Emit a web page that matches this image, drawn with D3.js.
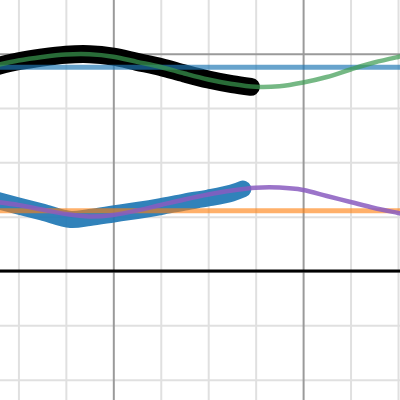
<!DOCTYPE html>
<html lang="en">
<head>
  <meta charset="UTF-8">
  <title>Chart</title>
  <script src="https://d3js.org/d3.v7.min.js"></script>
  <style>
    html, body { margin: 0; padding: 0; background: #fff; }
    svg { display: block; }
    .grid .domain { display: none; }
    .grid.minor line { stroke: #e0e0e0; stroke-width: 2px; }
    .grid.major line { stroke: #9a9a9a; stroke-width: 2px; }
  </style>
</head>
<body>
  <svg width="400" height="400"></svg>
  <script>
    // grid ticks
    const xMinorTicks = [-2, -1, 1, 2, 3, 5, 6];
    const xMajorTicks = [0, 4];
    const yMinorTicks = [-2, -1, 1, 2, 3];
    const yMajorTicks = [0, 4];

    // upper group: observed (thick black), level, fit
    const obsX = [-2.45, -2, -1.5, -1, -0.5, 0, 0.5, 1, 1.5, 2, 2.5, 2.9];
    const obsY = [3.77, 3.86, 3.93, 3.98, 3.99, 3.945, 3.85, 3.755, 3.635, 3.525, 3.44, 3.39];
    const fitX = [-2.45, -2, -1.5, -1, -0.5, 0, 0.5, 1, 1.5, 2, 2.5, 3, 3.5, 4, 4.5, 5, 5.5, 6, 6.1];
    const fitY = [3.79, 3.875, 3.94, 3.985, 3.99, 3.945, 3.85, 3.755, 3.635, 3.525, 3.442, 3.39, 3.401, 3.47, 3.571, 3.709, 3.838, 3.939, 3.957];
    const level1 = 3.749;

    // lower group: observed (thick blue), level, fit
    const obs2X = [-2.45, -2, -1.5, -0.9, -0.5, 0, 0.5, 1, 1.5, 2, 2.5, 2.73];
    const obs2Y = [1.3, 1.196, 1.086, 0.948, 0.985, 1.049, 1.114, 1.187, 1.27, 1.344, 1.436, 1.509];
    const fit2X = [-2.45, -2, -1.5, -1, -0.5, 0, 0.5, 1, 1.5, 2, 2.5, 3, 3.5, 4, 4.5, 5, 5.5, 6, 6.1];
    const fit2Y = [1.27, 1.215, 1.132, 1.049, 1.003, 1.031, 1.114, 1.215, 1.316, 1.408, 1.482, 1.532, 1.535, 1.491, 1.38, 1.27, 1.16, 1.068, 1.049];
    const level2 = 1.11;

    const W = 400, H = 400;
    const svg = d3.select("svg");

    const x = d3.scaleLinear().domain([-2.388, 6.042]).range([0, W]);
    const y = d3.scaleLinear().domain([-2.374, 4.988]).range([H, 0]);

    // gridlines via axes
    function grid(cls, xt, yt) {
      svg.append("g").attr("class", "grid " + cls)
        .attr("transform", `translate(0,${H})`)
        .call(d3.axisBottom(x).tickValues(xt).tickSize(H).tickFormat(""))
        .selectAll("line").attr("y2", -H);
      svg.append("g").attr("class", "grid " + cls)
        .call(d3.axisLeft(y).tickValues(yt).tickSize(-W).tickFormat(""));
    }
    grid("minor", xMinorTicks, yMinorTicks);
    grid("major", xMajorTicks, yMajorTicks);

    // zero line
    svg.append("line")
      .attr("x1", 0).attr("x2", W)
      .attr("y1", y(0)).attr("y2", y(0))
      .attr("stroke", "#000").attr("stroke-width", 3);

    const smooth = d3.line().x(d => x(d[0])).y(d => y(d[1])).curve(d3.curveCatmullRom.alpha(0.5));
    const straight = d3.line().x(d => x(d[0])).y(d => y(d[1]));
    const zip = (a, b) => a.map((v, i) => [v, b[i]]);

    function path(data, gen, color, width, opacity) {
      svg.append("path")
        .datum(data)
        .attr("d", gen)
        .attr("fill", "none")
        .attr("stroke", color)
        .attr("stroke-width", width)
        .attr("stroke-opacity", opacity)
        .attr("stroke-linecap", "round")
        .attr("stroke-linejoin", "round");
    }

    // upper
    path(zip(obsX, obsY), smooth, "#000", 18, 1);
    path([[-3, level1], [7, level1]], straight, "#1f77b4", 5, 0.68);
    path(zip(fitX, fitY), smooth, "#3a9a50", 4.5, 0.7);

    // lower
    path(zip(obs2X, obs2Y), smooth, "#1f77b4", 17, 0.92);
    path([[-3, level2], [7, level2]], straight, "#ff7f0e", 5, 0.62);
    path(zip(fit2X, fit2Y), smooth, "#8a5cc0", 4.5, 0.85);
  </script>
</body>
</html>
